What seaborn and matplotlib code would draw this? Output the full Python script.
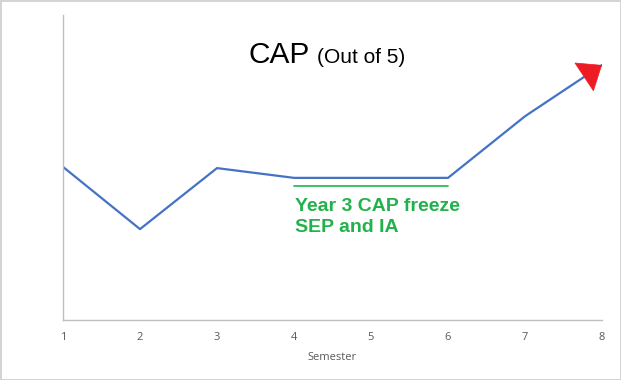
#CAP trend over semesters - simple line chart with an arrow at the end
import numpy as np
import pandas as pd
import matplotlib
matplotlib.use("Agg")
import matplotlib.pyplot as plt
import seaborn as sns

#Data (CAP out of 5, y axis 0..5)
semesters = [1, 2, 3, 4, 5, 6, 7, 8]
cap = [2.51, 1.49, 2.49, 2.33, 2.33, 2.33, 3.34, 4.18]
freeze_start = 4
freeze_end = 6
freeze_level = 2.2
freeze_text = "Year 3 CAP freeze\nSEP and IA"

df = pd.DataFrame({"Semester": semesters, "CAP": cap})

sns.set_style("white")
plt.rcParams['font.family'] = ['Liberation Sans', 'DejaVu Sans']

fig = plt.figure(figsize=(6.21, 3.80), dpi=100, edgecolor='#d4d4d4', linewidth=2)
ax = fig.add_axes([63/621, 60/380, 539/621, 305/380])

#main line
sns.lineplot(x="Semester", y="CAP", data=df, ax=ax, color='#4472C4', linewidth=1.6)

#red arrow head at the end of the line
back = 0.22
x_end, y_end = semesters[-1], cap[-1]
slope = (cap[-1] - cap[-2]) / (semesters[-1] - semesters[-2])
ax.annotate('', xy=(x_end, y_end), xytext=(x_end - back, y_end - back * slope),
            arrowprops=dict(arrowstyle='-|>,head_length=0.75,head_width=0.6',
                            color='#ED1C24', mutation_scale=20,
                            shrinkA=0, shrinkB=0, lw=0.5),
            annotation_clip=False, zorder=5)

#freeze marker + label
green = '#22B14C'
ax.plot([freeze_start, freeze_end], [freeze_level, freeze_level], color=green, lw=1.2)
ax.text(freeze_start + 0.01, freeze_level - 0.2, freeze_text, color=green,
        fontsize=14, fontweight='bold', va='top', ha='left', linespacing=1.3)

#title inside the plot
ax.text(0.345, 0.843, "CAP", transform=ax.transAxes, fontsize=21.5, va='baseline',
        ha='left', color='black')
ax.text(0.471, 0.843, "(Out of 5)", transform=ax.transAxes, fontsize=15, va='baseline',
        ha='left', color='black')

ax.set_xlim(1, 8)
ax.set_ylim(0, 5)
ax.set_xticks(semesters)
ax.set_xticklabels([str(s) for s in semesters], fontsize=8, color='#595959',
                   fontfamily='Open Sans')
ax.set_yticks([])
ax.tick_params(axis='x', length=0, pad=9)
ax.set_xlabel("Semester", fontsize=8, color='#595959', fontfamily='Open Sans')
ax.xaxis.set_label_coords(0.5, -0.105)
ax.set_ylabel("")

for side in ['top', 'right']:
    ax.spines[side].set_visible(False)
for side in ['left', 'bottom']:
    ax.spines[side].set_color('#BFBFBF')
    ax.spines[side].set_linewidth(1.0)

fig.savefig("out.png", dpi=100, edgecolor=fig.get_edgecolor())
